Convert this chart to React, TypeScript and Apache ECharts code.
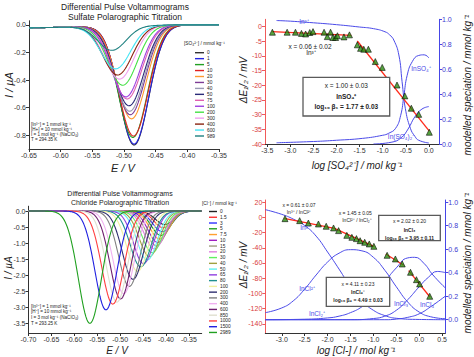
import React, { useEffect, useRef } from 'react';
import * as echarts from 'echarts';

const FONT = '"Liberation Sans", Arial, Helvetica, sans-serif';

// ---------- Top-left: sulfate differential pulse voltammograms ----------
const sulfateConc = ['0', '1', '5', '10', '20', '30', '40', '50', '75', '100', '200', '300', '400', '600', '989'];
const sulfateColors = ['#333333', '#2424e0', '#22a022', '#e02020', '#ff9a30', '#7e3c96', '#9a9ab4', '#2a2a78', '#e060b0', '#a040e0', '#44e044', '#f0a0f0', '#8a2410', '#44e4f4', '#1e8080'];
const sulfatePeakE = [-0.484, -0.484, -0.486, -0.485, -0.488, -0.49, -0.491, -0.492, -0.495, -0.497, -0.502, -0.507, -0.51, -0.513, -0.519];
const sulfatePeakI = [-0.865, -0.858, -0.81, -0.8, -0.675, -0.645, -0.62, -0.58, -0.53, -0.515, -0.43, -0.385, -0.355, -0.31, -0.175];
const sulfatePeakWidth = [0.023, 0.023, 0.023, 0.023, 0.023, 0.023, 0.023, 0.023, 0.023, 0.023, 0.023, 0.023, 0.023, 0.023, 0.022];
const sulfateBaseline = -0.022; // current at -0.65 V
const sulfateETicks = [-0.65, -0.6, -0.55, -0.5, -0.45, -0.4, -0.35];
const sulfateITicks = [-0.8, -0.6, -0.4, -0.2, 0];
const sulfateInfo = ['[In³⁺] = 1 mmol kg⁻¹', '[H+] = 10 mmol kg⁻¹', 'I = 1 mol kg⁻¹ (NaClO₄)', 'T = 294.35 K'];

// ---------- Top-right: sulfate ΔE1/2 and speciation ----------
const sulfateLogC = [-3.39, -3.07, -2.89, -2.76, -2.67, -2.58, -2.51, -2.27, -2.2, -2.13, -2.08, -2.02, -1.98, -1.84, -1.72, -1.55, -1.48, -1.41, -1.31, -1.16, -1.01, -0.69, -0.52, -0.38, -0.22, 0.01];
const sulfateDeltaE = [-1.9, -1.9, -1.9, -2.3, -2.5, -2.0, -1.7, -1.9, -3.4, -1.9, -3.7, -3.7, -3.1, -3.5, -2.8, -6.2, -7.4, -7.7, -7.7, -11.9, -13.9, -19.9, -23.6, -27.8, -29.9, -36.0];
const sulfateFit1 = [[-3.4, -1.7], [-1.68, -3.0]];
const sulfateFit2 = [[-1.55, -4.9], [0.01, -35.6]];
const specSO4_In = [[-3.3, 0.99], [-3.0, 0.985], [-2.5, 0.972], [-2.0, 0.957], [-1.5, 0.938], [-1.2, 0.925], [-0.95, 0.9], [-0.85, 0.875], [-0.76, 0.834], [-0.65, 0.714], [-0.58, 0.5], [-0.51, 0.286], [-0.4, 0.126], [-0.3, 0.06], [-0.22, 0.03], [0, 0.008]];
const specSO4_InSO4 = [[-3.3, 0.01], [-2.5, 0.02], [-2.0, 0.03], [-1.44, 0.045], [-1.0, 0.07], [-0.87, 0.086], [-0.72, 0.126], [-0.61, 0.23], [-0.54, 0.39], [-0.47, 0.55], [-0.36, 0.66], [-0.22, 0.71], [-0.1, 0.715], [0, 0.69]];
const specSO4_InSO42 = [[-1.2, 0], [-0.8, 0.015], [-0.6, 0.05], [-0.45, 0.12], [-0.3, 0.22], [-0.15, 0.28], [0, 0.3]];
const sulfateLogTicks = [-3.5, -3.0, -2.5, -2.0, -1.5, -1.0, -0.5, 0.0];
const sulfateDETicks = [-40, -35, -30, -25, -20, -15, -10, -5, 0];
const fractionTicks = [0, 0.2, 0.4, 0.6, 0.8, 1.0];

// ---------- Bottom-left: chloride differential pulse voltammograms ----------
const chlorideConc = ['0', '1.5', '3', '5', '7.5', '10', '15', '20', '30', '40', '50', '65', '80', '100', '200', '300', '400', '600', '850', '1000', '1500', '2989'];
const chlorideColors = ['#222222', '#ff3030', '#3030ff', '#20a020', '#ffa030', '#a020c0', '#a0a080', '#e080e0', '#60f060', '#a0a040', '#60f0f0', '#9040e0', '#209090', '#f0f0a0', '#303070', '#808080', '#f0b0f0', '#702070', '#e0e0d0', '#ff4040', '#2020e0', '#20a020'];
const chloridePeakE = [-0.403, -0.406, -0.408, -0.411, -0.414, -0.418, -0.421, -0.425, -0.43, -0.436, -0.441, -0.449, -0.455, -0.462, -0.472, -0.48, -0.492, -0.499, -0.507, -0.516, -0.531, -0.566];
const chloridePeakI = [-0.42, -0.52, -0.64, -0.76, -0.87, -0.98, -1.08, -1.18, -1.3, -1.42, -1.53, -1.64, -1.74, -1.88, -2.13, -2.35, -2.58, -2.74, -2.84, -2.9, -3.08, -3.5];
const chloridePeakWidth = [0.02, 0.02, 0.021, 0.021, 0.021, 0.021, 0.022, 0.022, 0.022, 0.022, 0.022, 0.022, 0.023, 0.023, 0.023, 0.023, 0.023, 0.023, 0.023, 0.024, 0.024, 0.025];
const chlorideETicks = [-0.7, -0.65, -0.6, -0.55, -0.5, -0.45, -0.4, -0.35];
const chlorideITicks = [-3.5, -3.0, -2.5, -2.0, -1.5, -1.0, -0.5, 0.0];
const chlorideInfo = ['[In³⁺] = 1 mmol kg⁻¹', '[H⁺] = 10 mmol kg⁻¹', 'I = 3 mol kg⁻¹ (NaClO₄)', 'T = 293.25 K'];

// ---------- Bottom-right: chloride ΔE1/2 and speciation ----------
const chlorideLogC = [-2.93, -2.61, -2.42, -2.2, -2.03, -1.87, -1.76, -1.58, -1.47, -1.37, -1.29, -1.19, -1.09, -0.99, -0.7, -0.52, -0.37, -0.19, -0.06, 0.01, 0.23];
const chlorideDeltaE = [-1.8, -4.4, -7.5, -8.8, -11.8, -14.0, -17.5, -23.7, -26.3, -28.0, -30.7, -32.8, -35.0, -38.1, -49.9, -54.7, -61.3, -72.2, -81.9, -87.5, -103.7];
const chlorideFit1 = [[-2.95, -1.5], [-1.85, -14.6]];
const chlorideFit2 = [[-1.85, -14.6], [-0.98, -38.5]];
const chlorideFit3 = [[-0.73, -48.2], [-0.34, -63.0]];
const chlorideFit4 = [[-0.23, -70.0], [0.24, -105.0]];
const specCl_In = [[-3.36, 0.935], [-3.0, 0.895], [-2.75, 0.855], [-2.5, 0.8], [-2.25, 0.71], [-2.0, 0.575], [-1.75, 0.43], [-1.5, 0.28], [-1.25, 0.16], [-1.0, 0.08], [-0.75, 0.035], [-0.5, 0.012], [0, 0.002], [0.57, 0]];
const specCl_InCl = [[-3.36, 0.06], [-3.0, 0.1], [-2.75, 0.16], [-2.5, 0.26], [-2.25, 0.38], [-2.0, 0.49], [-1.75, 0.565], [-1.5, 0.595], [-1.25, 0.585], [-1.0, 0.53], [-0.75, 0.42], [-0.5, 0.28], [-0.25, 0.15], [0, 0.065], [0.25, 0.025], [0.57, 0.008]];
const specCl_InCl2 = [[-3.36, 0], [-2.5, 0.004], [-2.0, 0.015], [-1.75, 0.03], [-1.5, 0.06], [-1.25, 0.11], [-1.0, 0.19], [-0.75, 0.32], [-0.5, 0.44], [-0.25, 0.525], [-0.1, 0.53], [0.1, 0.48], [0.3, 0.38], [0.57, 0.27]];
const specCl_InCl3 = [[-3.36, 0], [-1.5, 0], [-1.0, 0.01], [-0.75, 0.03], [-0.5, 0.08], [-0.25, 0.17], [0, 0.28], [0.2, 0.36], [0.4, 0.41], [0.57, 0.4]];
const specCl_InCl4 = [[-3.36, 0], [-0.75, 0], [-0.5, 0.005], [-0.25, 0.02], [0, 0.05], [0.25, 0.11], [0.57, 0.2]];
const chlorideLogTicks = [-3.0, -2.5, -2.0, -1.5, -1.0, -0.5, 0.0, 0.5];
const chlorideDETicks = [-140, -120, -100, -80, -60, -40, -20, 0, 20];

// ---------- styling ----------
const RED_AXIS = '#f05a5a';
const BLUE_AXIS = '#4646e6';
const SPEC_BLUE = '#4a4ae8';
const FIT_RED = '#ff2a1a';
const TRI_GREEN = '#2c8c10';
const DARK = '#333333';

function dpvCurve(e0: number, ip: number, sigma: number, eMin: number, eMax: number, baseStart: number, baseEnd: number) {
  const pts: number[][] = [];
  const n = 160;
  for (let k = 0; k <= n; k++) {
    const e = eMin + ((eMax - eMin) * k) / n;
    const base = e < baseEnd ? (baseStart * (baseEnd - e)) / (baseEnd - eMin) : 0;
    const v = base + ip * Math.exp(-((e - e0) * (e - e0)) / (2 * sigma * sigma));
    pts.push([e, v]);
  }
  return pts;
}

function valueAxis(opts: any) {
  const color = opts.color || DARK;
  return {
    type: 'value',
    gridIndex: opts.grid,
    position: opts.position,
    min: opts.min,
    max: opts.max,
    axisLine: { show: true, onZero: false, lineStyle: { color, width: 1 } },
    axisTick: { show: true, length: 3, inside: false, customValues: opts.ticks, lineStyle: { color, width: 1 } },
    splitLine: { show: false },
    axisLabel: {
      customValues: opts.ticks,
      fontSize: 7,
      fontFamily: FONT,
      color: opts.labelColor || DARK,
      margin: 3,
      formatter: (v: number) => (opts.digits === 0 ? String(Math.round(v)) : v.toFixed(opts.digits)),
    },
  };
}

function txt(x: number, y: number, text: string, o: any = {}) {
  const align = o.align || 'center';
  return {
    type: 'text',
    x,
    y,
    z: 100,
    silent: true,
    rotation: o.rot || 0,
    style: {
      text,
      fontSize: o.size || 6,
      fontFamily: FONT,
      fontStyle: o.italic ? 'italic' : 'normal',
      fontWeight: o.bold ? 'bold' : 'normal',
      fill: o.color || '#222',
      align,
      verticalAlign: 'middle',
      textAlign: align,
      textVerticalAlign: 'middle',
    },
  };
}

function hline(x1: number, x2: number, y: number, color: string) {
  return { type: 'line', z: 100, silent: true, shape: { x1, y1: y, x2, y2: y }, style: { stroke: color, lineWidth: 1.4 } };
}

function box(x: number, y: number, w: number, h: number) {
  return { type: 'rect', z: 90, silent: true, shape: { x, y, width: w, height: h }, style: { fill: '#ffffff', stroke: '#5a5a5a', lineWidth: 1.3 } };
}

function lineSeries(xi: number, yi: number, data: number[][], color: string, width: number, smooth = false) {
  return {
    type: 'line',
    xAxisIndex: xi,
    yAxisIndex: yi,
    data,
    symbol: 'none',
    showSymbol: false,
    smooth,
    silent: true,
    lineStyle: { color, width },
    itemStyle: { color },
  };
}

function buildOption() {
  const series: any[] = [];
  sulfateConc.forEach((_, i) => {
    series.push(lineSeries(0, 0, dpvCurve(sulfatePeakE[i], sulfatePeakI[i], sulfatePeakWidth[i], -0.65, -0.35, sulfateBaseline, -0.42), sulfateColors[i], 1.1));
  });
  chlorideConc.forEach((_, i) => {
    series.push(lineSeries(2, 3, dpvCurve(chloridePeakE[i], chloridePeakI[i], chloridePeakWidth[i], -0.7, -0.322, 0, -0.7), chlorideColors[i], 1.1));
  });
  // top-right
  series.push(lineSeries(1, 2, specSO4_In, SPEC_BLUE, 1, true));
  series.push(lineSeries(1, 2, specSO4_InSO4, SPEC_BLUE, 1, true));
  series.push(lineSeries(1, 2, specSO4_InSO42, SPEC_BLUE, 1, true));
  series.push(lineSeries(1, 1, sulfateFit1, FIT_RED, 1.3));
  series.push(lineSeries(1, 1, sulfateFit2, FIT_RED, 1.3));
  series.push({
    type: 'scatter',
    xAxisIndex: 1,
    yAxisIndex: 1,
    symbol: 'triangle',
    symbolSize: 6,
    silent: true,
    z: 5,
    itemStyle: { color: TRI_GREEN, borderColor: '#000', borderWidth: 0.7 },
    data: sulfateLogC.map((x, i) => [x, sulfateDeltaE[i]]),
  });
  // bottom-right
  [specCl_In, specCl_InCl, specCl_InCl2, specCl_InCl3, specCl_InCl4].forEach((d) => series.push(lineSeries(3, 5, d, SPEC_BLUE, 1, true)));
  [chlorideFit1, chlorideFit2, chlorideFit3, chlorideFit4].forEach((d) => series.push(lineSeries(3, 4, d, FIT_RED, 1.3)));
  series.push({
    type: 'scatter',
    xAxisIndex: 3,
    yAxisIndex: 4,
    symbol: 'triangle',
    symbolSize: 6,
    silent: true,
    z: 5,
    itemStyle: { color: TRI_GREEN, borderColor: '#000', borderWidth: 0.7 },
    data: chlorideLogC.map((x, i) => [x, chlorideDeltaE[i]]),
  });

  const graphic: any[] = [];
  // titles
  graphic.push(txt(125, 6.5, 'Differential Pulse Voltammograms', { size: 8.5 }));
  graphic.push(txt(125, 16.5, 'Sulfate Polarographic Titration', { size: 8.5 }));
  graphic.push(txt(120, 193, 'Differential Pulse Voltammograms', { size: 7 }));
  graphic.push(txt(120, 202, 'Chloride Polarographic Titration', { size: 7 }));
  // axis names
  graphic.push(txt(123, 168, 'E / V', { size: 11, italic: true }));
  graphic.push(txt(9, 85, 'I / µA', { size: 11, italic: true, rot: Math.PI / 2 }));
  graphic.push(txt(117, 350, 'E / V', { size: 10, italic: true }));
  graphic.push(txt(8, 268, 'I / µA', { size: 10, italic: true, rot: Math.PI / 2 }));
  graphic.push(txt(243, 80, 'ΔE₁/₂ / mV', { size: 10, italic: true, rot: Math.PI / 2 }));
  graphic.push(txt(467, 85, 'modelled speciation / mmol kg⁻¹', { size: 10, italic: true, rot: Math.PI / 2 }));
  graphic.push(txt(357, 165, 'log [SO₄²⁻] / mol kg⁻¹', { size: 10, italic: true }));
  graphic.push(txt(243, 265, 'ΔE₁/₂ / mV', { size: 10, italic: true, rot: Math.PI / 2 }));
  graphic.push(txt(467, 263, 'modelled speciation / mmol kg⁻¹', { size: 10, italic: true, rot: Math.PI / 2 }));
  graphic.push(txt(356, 350, 'log [Cl-] / mol kg⁻¹', { size: 10, italic: true }));
  // info blocks
  sulfateInfo.forEach((t, i) => graphic.push(txt(31, 124.3 + i * 5.1, t, { size: 4.6, align: 'left' })));
  chlorideInfo.forEach((t, i) => graphic.push(txt(31, 306.3 + i * 5.6, t, { size: 4.6, align: 'left' })));
  // legends
  graphic.push(txt(184, 43, '[SO₄²⁻] / mmol kg⁻¹', { size: 4.8, align: 'left' }));
  sulfateConc.forEach((c, i) => {
    const y = 52.7 + i * 5.95;
    graphic.push(hline(195, 204, y, sulfateColors[i]));
    graphic.push(txt(207, y, c, { size: 4.8, align: 'left' }));
  });
  graphic.push(txt(202, 203, '[Cl⁻] / mmol kg⁻¹', { size: 4.8, align: 'left' }));
  chlorideConc.forEach((c, i) => {
    const y = 211.5 + i * 5.76;
    graphic.push(hline(209, 217, y, chlorideColors[i]));
    graphic.push(txt(220, y, c, { size: 4.8, align: 'left' }));
  });
  // top-right annotations
  graphic.push(txt(304, 21.5, 'In³⁺', { size: 6.5, color: SPEC_BLUE }));
  graphic.push(txt(310, 46.7, 'x = 0.06 ± 0.02', { size: 6.5 }));
  graphic.push(txt(311, 52.9, 'In³⁺', { size: 6.5 }));
  graphic.push(box(303, 77.3, 86.7, 38.7));
  graphic.push(txt(346.3, 85.7, 'x = 1.00 ± 0.03', { size: 6.5 }));
  graphic.push(txt(346.3, 96, 'InSO₄⁺', { size: 6.5, bold: true }));
  graphic.push(txt(346.3, 106.7, 'log₁₀ β₁ = 1.77 ± 0.03', { size: 6.5, bold: true }));
  graphic.push(txt(421, 68.3, 'InSO₄⁺', { size: 6.5, color: SPEC_BLUE }));
  graphic.push(txt(401, 136.7, 'In(SO₄)₂⁻', { size: 6.5, color: SPEC_BLUE }));
  // bottom-right annotations
  graphic.push(txt(299, 205, 'x = 0.61 ± 0.07', { size: 5 }));
  graphic.push(txt(299, 211.7, 'In³⁺ / InCl²⁺', { size: 5 }));
  graphic.push(txt(355.3, 213.3, 'x = 1.45 ± 0.05', { size: 5 }));
  graphic.push(txt(357, 220, 'InCl²⁺ / InCl₂⁺', { size: 5 }));
  graphic.push(box(378.7, 215.3, 61.6, 25.4));
  graphic.push(txt(409.5, 221.3, 'x = 2.02 ± 0.20', { size: 5 }));
  graphic.push(txt(409.5, 229.5, 'InCl₃', { size: 5, bold: true }));
  graphic.push(txt(409.5, 237.5, 'log₁₀ β₃ = 3.95 ± 0.11', { size: 5, bold: true }));
  graphic.push(box(326.3, 277.3, 63.4, 29));
  graphic.push(txt(358, 284, 'x = 4.11 ± 0.23', { size: 5 }));
  graphic.push(txt(358, 291.5, 'InCl₄⁻', { size: 5, bold: true }));
  graphic.push(txt(358, 299.7, 'log₁₀ β₄ = 4.49 ± 0.03', { size: 5, bold: true }));
  graphic.push(txt(305, 227.3, 'In³⁺', { size: 6.5, color: SPEC_BLUE }));
  graphic.push(txt(307, 288, 'InCl²⁺', { size: 6.5, color: SPEC_BLUE }));
  graphic.push(txt(317, 313, 'InCl₂⁺', { size: 6.5, color: SPEC_BLUE }));
  graphic.push(txt(401, 303, 'InCl₃', { size: 6.5, color: SPEC_BLUE }));
  graphic.push(txt(428, 304.7, 'InCl₄⁻', { size: 6.5, color: SPEC_BLUE }));

  return {
    animation: false,
    backgroundColor: '#ffffff',
    textStyle: { fontFamily: FONT },
    grid: [
      { left: 29, top: 20.75, width: 190, height: 128.25 },
      { left: 265, top: 19.3, width: 174, height: 124.7 },
      { left: 28.5, top: 206.2, width: 173.2, height: 126.8 },
      { left: 265.3, top: 200, width: 180, height: 133 },
    ],
    xAxis: [
      valueAxis({ grid: 0, position: 'bottom', min: -0.65, max: -0.35, ticks: sulfateETicks, digits: 2 }),
      valueAxis({ grid: 1, position: 'bottom', min: -3.55, max: 0.22, ticks: sulfateLogTicks, digits: 1 }),
      valueAxis({ grid: 2, position: 'bottom', min: -0.7, max: -0.322, ticks: chlorideETicks, digits: 2 }),
      valueAxis({ grid: 3, position: 'bottom', min: -3.36, max: 0.57, ticks: chlorideLogTicks, digits: 1 }),
    ],
    yAxis: [
      valueAxis({ grid: 0, position: 'left', min: -0.9, max: 0.03, ticks: sulfateITicks, digits: 1 }),
      valueAxis({ grid: 1, position: 'left', min: -40, max: 2.5, ticks: sulfateDETicks, digits: 0, color: RED_AXIS, labelColor: '#d83c3c' }),
      valueAxis({ grid: 1, position: 'right', min: 0, max: 1.0, ticks: fractionTicks, digits: 1, color: BLUE_AXIS, labelColor: '#3a3ad0' }),
      valueAxis({ grid: 2, position: 'left', min: -3.8, max: 0.15, ticks: chlorideITicks, digits: 1 }),
      valueAxis({ grid: 3, position: 'left', min: -151.9, max: 22.7, ticks: chlorideDETicks, digits: 0, color: RED_AXIS, labelColor: '#d83c3c' }),
      valueAxis({ grid: 3, position: 'right', min: -0.113, max: 1.017, ticks: fractionTicks, digits: 1, color: BLUE_AXIS, labelColor: '#3a3ad0' }),
    ],
    series,
    graphic,
  };
}

export default function App() {
  const ref = useRef<HTMLDivElement>(null);
  useEffect(() => {
    if (!ref.current) return;
    const chart = echarts.init(ref.current, null, { renderer: 'svg', width: 474, height: 357 });
    chart.setOption(buildOption() as any);
    return () => chart.dispose();
  }, []);
  return (
    <div
      ref={ref}
      style={{ position: 'fixed', left: 0, top: 0, width: 474, height: 357, background: '#ffffff' }}
    />
  );
}
